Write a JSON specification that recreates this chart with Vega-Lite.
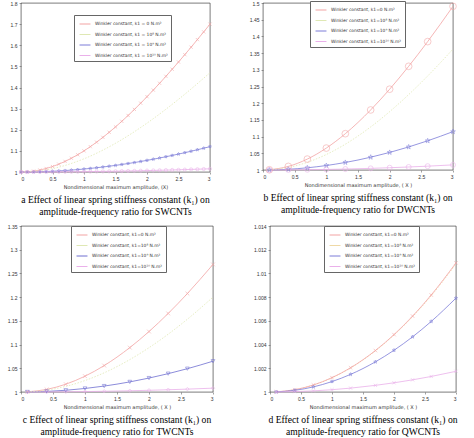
{
"$schema": "https://vega.github.io/schema/vega-lite/v6.json",
"padding": {"left": 6, "top": 0, "right": 0, "bottom": 0},
"background": "white",
"datasets": {
"a": [
{"x":0,"y":1,"s":"0"},{"x":0.1,"y":1.00105,"s":"0"},{"x":0.2,"y":1.0042,"s":"0"},{"x":0.3,"y":1.0094,"s":"0"},{"x":0.4,"y":1.0167,"s":"0"},{"x":0.5,"y":1.0259,"s":"0"},{"x":0.6,"y":1.0371,"s":"0"},{"x":0.7,"y":1.0502,"s":"0"},{"x":0.8,"y":1.0651,"s":"0"},{"x":0.9,"y":1.0817,"s":"0"},{"x":1.0,"y":1.1,"s":"0"},{"x":1.1,"y":1.1199,"s":"0"},{"x":1.2,"y":1.1412,"s":"0"},{"x":1.3,"y":1.164,"s":"0"},{"x":1.4,"y":1.1881,"s":"0"},{"x":1.5,"y":1.2135,"s":"0"},{"x":1.6,"y":1.24,"s":"0"},{"x":1.7,"y":1.2676,"s":"0"},{"x":1.8,"y":1.2963,"s":"0"},{"x":1.9,"y":1.3259,"s":"0"},{"x":2.0,"y":1.3565,"s":"0"},{"x":2.1,"y":1.3878,"s":"0"},{"x":2.2,"y":1.42,"s":"0"},{"x":2.3,"y":1.4529,"s":"0"},{"x":2.4,"y":1.4865,"s":"0"},{"x":2.5,"y":1.5207,"s":"0"},{"x":2.6,"y":1.5555,"s":"0"},{"x":2.7,"y":1.5909,"s":"0"},{"x":2.8,"y":1.6268,"s":"0"},{"x":2.9,"y":1.6632,"s":"0"},{"x":3.0,"y":1.7,"s":"0"},
{"x":0,"y":1,"s":"1e8"},{"x":0.5,"y":1.016,"s":"1e8"},{"x":1.0,"y":1.0625,"s":"1e8"},{"x":1.5,"y":1.1359,"s":"1e8"},{"x":2.0,"y":1.2313,"s":"1e8"},{"x":2.5,"y":1.344,"s":"1e8"},{"x":3.0,"y":1.47,"s":"1e8"},
{"x":0,"y":1,"s":"1e9"},{"x":0.1,"y":1.00014,"s":"1e9"},{"x":0.2,"y":1.00057,"s":"1e9"},{"x":0.3,"y":1.00127,"s":"1e9"},{"x":0.4,"y":1.00226,"s":"1e9"},{"x":0.5,"y":1.00353,"s":"1e9"},{"x":0.6,"y":1.00508,"s":"1e9"},{"x":0.7,"y":1.00691,"s":"1e9"},{"x":0.8,"y":1.00901,"s":"1e9"},{"x":0.9,"y":1.01139,"s":"1e9"},{"x":1.0,"y":1.01405,"s":"1e9"},{"x":1.1,"y":1.01698,"s":"1e9"},{"x":1.2,"y":1.02017,"s":"1e9"},{"x":1.3,"y":1.02364,"s":"1e9"},{"x":1.4,"y":1.02736,"s":"1e9"},{"x":1.5,"y":1.03134,"s":"1e9"},{"x":1.6,"y":1.03559,"s":"1e9"},{"x":1.7,"y":1.04009,"s":"1e9"},{"x":1.8,"y":1.04484,"s":"1e9"},{"x":1.9,"y":1.04984,"s":"1e9"},{"x":2.0,"y":1.05508,"s":"1e9"},{"x":2.1,"y":1.06057,"s":"1e9"},{"x":2.2,"y":1.06629,"s":"1e9"},{"x":2.3,"y":1.07225,"s":"1e9"},{"x":2.4,"y":1.07843,"s":"1e9"},{"x":2.5,"y":1.08484,"s":"1e9"},{"x":2.6,"y":1.09147,"s":"1e9"},{"x":2.7,"y":1.09832,"s":"1e9"},{"x":2.8,"y":1.10538,"s":"1e9"},{"x":2.9,"y":1.11265,"s":"1e9"},{"x":3.0,"y":1.12011,"s":"1e9"},
{"x":0,"y":1,"s":"1e10"},{"x":0.1,"y":1.00002,"s":"1e10"},{"x":0.2,"y":1.00007,"s":"1e10"},{"x":0.3,"y":1.00015,"s":"1e10"},{"x":0.4,"y":1.00027,"s":"1e10"},{"x":0.5,"y":1.00042,"s":"1e10"},{"x":0.6,"y":1.0006,"s":"1e10"},{"x":0.7,"y":1.00082,"s":"1e10"},{"x":0.8,"y":1.00108,"s":"1e10"},{"x":0.9,"y":1.00136,"s":"1e10"},{"x":1.0,"y":1.00168,"s":"1e10"},{"x":1.1,"y":1.00203,"s":"1e10"},{"x":1.2,"y":1.00242,"s":"1e10"},{"x":1.3,"y":1.00284,"s":"1e10"},{"x":1.4,"y":1.00329,"s":"1e10"},{"x":1.5,"y":1.00378,"s":"1e10"},{"x":1.6,"y":1.0043,"s":"1e10"},{"x":1.7,"y":1.00485,"s":"1e10"},{"x":1.8,"y":1.00544,"s":"1e10"},{"x":1.9,"y":1.00606,"s":"1e10"},{"x":2.0,"y":1.00672,"s":"1e10"},{"x":2.1,"y":1.00741,"s":"1e10"},{"x":2.2,"y":1.00813,"s":"1e10"},{"x":2.3,"y":1.00889,"s":"1e10"},{"x":2.4,"y":1.00968,"s":"1e10"},{"x":2.5,"y":1.0105,"s":"1e10"},{"x":2.6,"y":1.01136,"s":"1e10"},{"x":2.7,"y":1.01225,"s":"1e10"},{"x":2.8,"y":1.01317,"s":"1e10"},{"x":2.9,"y":1.01413,"s":"1e10"},{"x":3.0,"y":1.01511,"s":"1e10"}
],
"b": [
{"x":0.1,"y":1.00068,"s":"0"},{"x":0.4,"y":1.01079,"s":"0"},{"x":0.7,"y":1.03269,"s":"0"},{"x":1.0,"y":1.06565,"s":"0"},{"x":1.3,"y":1.10868,"s":"0"},{"x":1.7,"y":1.17978,"s":"0"},{"x":2.0,"y":1.24193,"s":"0"},{"x":2.3,"y":1.31046,"s":"0"},{"x":2.6,"y":1.38443,"s":"0"},{"x":3.0,"y":1.4901,"s":"0"},
{"x":0.1,"y":1.00048,"s":"1e8"},{"x":0.4,"y":1.00757,"s":"1e8"},{"x":0.7,"y":1.02301,"s":"1e8"},{"x":1.0,"y":1.04642,"s":"1e8"},{"x":1.3,"y":1.07729,"s":"1e8"},{"x":1.7,"y":1.12896,"s":"1e8"},{"x":2.0,"y":1.17473,"s":"1e8"},{"x":2.3,"y":1.22579,"s":"1e8"},{"x":2.6,"y":1.28148,"s":"1e8"},{"x":3.0,"y":1.36198,"s":"1e8"},
{"x":0.1,"y":1.00014,"s":"1e9"},{"x":0.4,"y":1.00216,"s":"1e9"},{"x":0.7,"y":1.0066,"s":"1e9"},{"x":1.0,"y":1.01341,"s":"1e9"},{"x":1.3,"y":1.02256,"s":"1e9"},{"x":1.7,"y":1.03829,"s":"1e9"},{"x":2.0,"y":1.05262,"s":"1e9"},{"x":2.3,"y":1.06903,"s":"1e9"},{"x":2.6,"y":1.08744,"s":"1e9"},{"x":3.0,"y":1.1149,"s":"1e9"},
{"x":0.1,"y":1.00002,"s":"1e10"},{"x":0.4,"y":1.00027,"s":"1e10"},{"x":0.7,"y":1.00083,"s":"1e10"},{"x":1.0,"y":1.0017,"s":"1e10"},{"x":1.3,"y":1.00287,"s":"1e10"},{"x":1.7,"y":1.00491,"s":"1e10"},{"x":2.0,"y":1.0068,"s":"1e10"},{"x":2.3,"y":1.00899,"s":"1e10"},{"x":2.6,"y":1.01149,"s":"1e10"},{"x":3.0,"y":1.0153,"s":"1e10"}
],
"c": [
{"x":0.1,"y":1.00034,"s":"0"},{"x":0.4,"y":1.00541,"s":"0"},{"x":0.7,"y":1.01647,"s":"0"},{"x":1.0,"y":1.03334,"s":"0"},{"x":1.3,"y":1.05574,"s":"0"},{"x":1.7,"y":1.09359,"s":"0"},{"x":2.0,"y":1.12748,"s":"0"},{"x":2.3,"y":1.16562,"s":"0"},{"x":2.6,"y":1.20761,"s":"0"},{"x":3.0,"y":1.26894,"s":"0"},
{"x":0.1,"y":1.00024,"s":"1e8"},{"x":0.4,"y":1.0039,"s":"1e8"},{"x":0.7,"y":1.01191,"s":"1e8"},{"x":1.0,"y":1.02416,"s":"1e8"},{"x":1.3,"y":1.0405,"s":"1e8"},{"x":1.7,"y":1.06833,"s":"1e8"},{"x":2.0,"y":1.09344,"s":"1e8"},{"x":2.3,"y":1.12191,"s":"1e8"},{"x":2.6,"y":1.1535,"s":"1e8"},{"x":3.0,"y":1.20004,"s":"1e8"},
{"x":0.1,"y":1.00007,"s":"1e9"},{"x":0.4,"y":1.00119,"s":"1e9"},{"x":0.7,"y":1.00364,"s":"1e9"},{"x":1.0,"y":1.00742,"s":"1e9"},{"x":1.3,"y":1.01251,"s":"1e9"},{"x":1.7,"y":1.0213,"s":"1e9"},{"x":2.0,"y":1.02938,"s":"1e9"},{"x":2.3,"y":1.03867,"s":"1e9"},{"x":2.6,"y":1.04915,"s":"1e9"},{"x":3.0,"y":1.06494,"s":"1e9"},
{"x":0.1,"y":1.00001,"s":"1e10"},{"x":0.4,"y":1.00014,"s":"1e10"},{"x":0.7,"y":1.00044,"s":"1e10"},{"x":1.0,"y":1.0009,"s":"1e10"},{"x":1.3,"y":1.00152,"s":"1e10"},{"x":1.7,"y":1.0026,"s":"1e10"},{"x":2.0,"y":1.0036,"s":"1e10"},{"x":2.3,"y":1.00476,"s":"1e10"},{"x":2.6,"y":1.00608,"s":"1e10"},{"x":3.0,"y":1.0081,"s":"1e10"}
],
"d": [
{"x":0.1,"y":1.000012,"s":"0"},{"x":0.4,"y":1.000194,"s":"0"},{"x":0.7,"y":1.000593,"s":"0"},{"x":1.0,"y":1.00121,"s":"0"},{"x":1.3,"y":1.002045,"s":"0"},{"x":1.7,"y":1.003497,"s":"0"},{"x":2.0,"y":1.00484,"s":"0"},{"x":2.3,"y":1.006401,"s":"0"},{"x":2.6,"y":1.00818,"s":"0"},{"x":3.0,"y":1.01089,"s":"0"},
{"x":0.1,"y":1.000012,"s":"1e8"},{"x":0.4,"y":1.000192,"s":"1e8"},{"x":0.7,"y":1.000588,"s":"1e8"},{"x":1.0,"y":1.0012,"s":"1e8"},{"x":1.3,"y":1.002028,"s":"1e8"},{"x":1.7,"y":1.003468,"s":"1e8"},{"x":2.0,"y":1.0048,"s":"1e8"},{"x":2.3,"y":1.006348,"s":"1e8"},{"x":2.6,"y":1.008112,"s":"1e8"},{"x":3.0,"y":1.0108,"s":"1e8"},
{"x":0.1,"y":1.000009,"s":"1e9"},{"x":0.4,"y":1.000141,"s":"1e9"},{"x":0.7,"y":1.000431,"s":"1e9"},{"x":1.0,"y":1.00088,"s":"1e9"},{"x":1.3,"y":1.001487,"s":"1e9"},{"x":1.7,"y":1.002543,"s":"1e9"},{"x":2.0,"y":1.00352,"s":"1e9"},{"x":2.3,"y":1.004655,"s":"1e9"},{"x":2.6,"y":1.005949,"s":"1e9"},{"x":3.0,"y":1.00792,"s":"1e9"},
{"x":0.1,"y":1.000002,"s":"1e10"},{"x":0.4,"y":1.000031,"s":"1e10"},{"x":0.7,"y":1.000095,"s":"1e10"},{"x":1.0,"y":1.000194,"s":"1e10"},{"x":1.3,"y":1.000328,"s":"1e10"},{"x":1.7,"y":1.000561,"s":"1e10"},{"x":2.0,"y":1.000776,"s":"1e10"},{"x":2.3,"y":1.001026,"s":"1e10"},{"x":2.6,"y":1.001311,"s":"1e10"},{"x":3.0,"y":1.001746,"s":"1e10"}
]
},
"vconcat": [
{"hconcat": [
{"width": 189, "height": 169, "data": {"name": "a"},
 "title": {"text": ["a Effect of linear spring stiffness constant (k₁) on", "amplitude-frequency ratio for SWCNTs"]},
 "encoding": {
  "x": {"field": "x", "type": "quantitative", "scale": {"domain": [0, 3], "nice": false}, "axis": {"values": [0, 0.5, 1, 1.5, 2, 2.5, 3], "format": "~f", "title": "Nondimensional maximum amplitude, (X)"}},
  "y": {"field": "y", "type": "quantitative", "scale": {"domain": [1, 1.8], "nice": false, "zero": false}, "axis": {"values": [1, 1.1, 1.2, 1.3, 1.4, 1.5, 1.6, 1.7, 1.8], "format": "~f"}},
  "color": {"field": "s", "type": "nominal", "scale": {"domain": ["0", "1e8", "1e9", "1e10"], "range": ["#f2a3a3", "#dfe8b4", "#7c7cd8", "#eab0ea"]},
   "legend": {"legendX": 53, "legendY": 12, "labelExpr": "datum.value == '0' ? 'Winkler constant, k1 = 0 N.m²' : datum.value == '1e8' ? 'Winkler constant, k1 = 10⁸ N.m²' : datum.value == '1e9' ? 'Winkler constant, k1 = 10⁹ N.m²' : 'Winkler constant, k1 = 10¹⁰ N.m²'"}}
 },
 "layer": [
  {"transform": [{"filter": "datum.s != '1e8'"}], "mark": {"type": "line", "interpolate": "monotone", "strokeWidth": 0.8}},
  {"transform": [{"filter": "datum.s == '1e8'"}], "mark": {"type": "line", "interpolate": "monotone", "strokeWidth": 0.8, "strokeDash": [1.5, 1.5]}},
  {"transform": [{"filter": "datum.s == '0'"}], "mark": {"type": "point", "filled": false, "strokeWidth": 0.8, "size": 10, "shape": "M-1,-1L1,1M-1,1L1,-1"}, "encoding": {"color": {"value": "#f2a3a3"}}},
  {"transform": [{"filter": "datum.s == '1e9'"}], "mark": {"type": "point", "filled": false, "strokeWidth": 0.8, "size": 10, "shape": "M0,-1L0.22,-0.31L0.95,-0.31L0.36,0.12L0.59,0.81L0,0.38L-0.59,0.81L-0.36,0.12L-0.95,-0.31L-0.22,-0.31Z"}, "encoding": {"color": {"value": "#7c7cd8"}}},
  {"transform": [{"filter": "datum.s == '1e10'"}], "mark": {"type": "point", "filled": false, "strokeWidth": 0.8, "size": 10, "shape": "circle"}, "encoding": {"color": {"value": "#eab0ea"}}}
 ]
},
{"width": 190, "height": 167, "data": {"name": "b"},
 "title": {"text": ["b Effect of linear spring stiffness constant (k₁) on", "amplitude-frequency ratio for DWCNTs"]},
 "encoding": {
  "x": {"field": "x", "type": "quantitative", "scale": {"domain": [0, 3], "nice": false}, "axis": {"values": [0, 0.5, 1, 1.5, 2, 2.5, 3], "format": "~f", "title": "Nondimensional maximum amplitude, ( X )"}},
  "y": {"field": "y", "type": "quantitative", "scale": {"domain": [1, 1.5], "nice": false, "zero": false}, "axis": {"values": [1, 1.05, 1.1, 1.15, 1.2, 1.25, 1.3, 1.35, 1.4, 1.45, 1.5], "format": "~f"}},
  "color": {"field": "s", "type": "nominal", "scale": {"domain": ["0", "1e8", "1e9", "1e10"], "range": ["#f2a3a3", "#dfe8b4", "#7c7cd8", "#eab0ea"]},
   "legend": {"legendX": 47, "legendY": -2, "labelExpr": "datum.value == '0' ? 'Winkler constant, k1=0 N.m²' : datum.value == '1e8' ? 'Winkler constant, k1=10⁸ N.m²' : datum.value == '1e9' ? 'Winkler constant, k1=10⁹ N.m²' : 'Winkler constant, k1=10¹⁰ N.m²'"}}
 },
 "layer": [
  {"transform": [{"filter": "datum.s != '1e8'"}], "mark": {"type": "line", "interpolate": "monotone", "strokeWidth": 0.8}},
  {"transform": [{"filter": "datum.s == '1e8'"}], "mark": {"type": "line", "interpolate": "monotone", "strokeWidth": 0.8, "strokeDash": [1.5, 1.5]}},
  {"transform": [{"filter": "datum.s == '0'"}], "mark": {"type": "point", "filled": false, "strokeWidth": 0.8, "size": 45, "shape": "circle"}, "encoding": {"color": {"value": "#f2a3a3"}}},
  {"transform": [{"filter": "datum.s == '1e9'"}], "mark": {"type": "point", "filled": false, "strokeWidth": 0.8, "size": 25, "shape": "M0,-1L0.22,-0.31L0.95,-0.31L0.36,0.12L0.59,0.81L0,0.38L-0.59,0.81L-0.36,0.12L-0.95,-0.31L-0.22,-0.31Z"}, "encoding": {"color": {"value": "#7c7cd8"}}},
  {"transform": [{"filter": "datum.s == '1e10'"}], "mark": {"type": "point", "filled": false, "strokeWidth": 0.8, "size": 25, "shape": "circle"}, "encoding": {"color": {"value": "#eab0ea"}}}
 ]
}
], "spacing": 34, "resolve": {"scale": {"color": "independent"}, "legend": {"color": "independent"}}},
{"hconcat": [
{"width": 192, "height": 166, "data": {"name": "c"},
 "title": {"text": ["c Effect of linear spring stiffness constant (k₁) on", "amplitude-frequency ratio for TWCNTs"]},
 "encoding": {
  "x": {"field": "x", "type": "quantitative", "scale": {"domain": [0, 3], "nice": false}, "axis": {"values": [0, 0.5, 1, 1.5, 2, 2.5, 3], "format": "~f", "title": "Nondimensional maximum amplitude, ( X )"}},
  "y": {"field": "y", "type": "quantitative", "scale": {"domain": [1, 1.35], "nice": false, "zero": false}, "axis": {"values": [1, 1.05, 1.1, 1.15, 1.2, 1.25, 1.3, 1.35], "format": "~f"}},
  "color": {"field": "s", "type": "nominal", "scale": {"domain": ["0", "1e8", "1e9", "1e10"], "range": ["#f2a3a3", "#dfe8b4", "#6f6fd0", "#eab0ea"]},
   "legend": {"legendX": 50, "legendY": 0, "labelExpr": "datum.value == '0' ? 'Winkler constant, k1=0 N.m²' : datum.value == '1e8' ? 'Winkler constant, k1=10⁸ N.m²' : datum.value == '1e9' ? 'Winkler constant, k1=10⁹ N.m²' : 'Winkler constant, k1=10¹⁰ N.m²'"}}
 },
 "layer": [
  {"transform": [{"filter": "datum.s != '1e8'"}], "mark": {"type": "line", "interpolate": "monotone", "strokeWidth": 0.8}},
  {"transform": [{"filter": "datum.s == '1e8'"}], "mark": {"type": "line", "interpolate": "monotone", "strokeWidth": 0.8, "strokeDash": [1.5, 1.5]}},
  {"transform": [{"filter": "datum.s == '0'"}], "mark": {"type": "point", "filled": false, "strokeWidth": 0.8, "size": 14, "shape": "M-1,-1L1,1M-1,1L1,-1"}, "encoding": {"color": {"value": "#f2a3a3"}}},
  {"transform": [{"filter": "datum.s == '1e9'"}], "mark": {"type": "point", "filled": false, "strokeWidth": 0.8, "size": 14, "shape": "triangle-down"}, "encoding": {"color": {"value": "#6f6fd0"}}},
  {"transform": [{"filter": "datum.s == '1e10'"}], "mark": {"type": "point", "filled": false, "strokeWidth": 0.8, "size": 12, "shape": "diamond"}, "encoding": {"color": {"value": "#eab0ea"}}}
 ]
},
{"width": 186, "height": 166, "data": {"name": "d"},
 "title": {"text": ["d Effect of linear spring stiffness constant (k₁) on", "amplitude-frequency ratio for QWCNTs"]},
 "encoding": {
  "x": {"field": "x", "type": "quantitative", "scale": {"domain": [0, 3], "nice": false}, "axis": {"values": [0, 0.5, 1, 1.5, 2, 2.5, 3], "format": "~f", "title": "Nondimensional maximum amplitude, ( X )"}},
  "y": {"field": "y", "type": "quantitative", "scale": {"domain": [1, 1.014], "nice": false, "zero": false}, "axis": {"values": [1, 1.002, 1.004, 1.006, 1.008, 1.01, 1.012, 1.014], "format": "~f"}},
  "color": {"field": "s", "type": "nominal", "scale": {"domain": ["0", "1e8", "1e9", "1e10"], "range": ["#f2a3a3", "#efd9a6", "#7c7cd8", "#eab0ea"]},
   "legend": {"legendX": 54, "legendY": 0, "labelExpr": "datum.value == '0' ? 'Winkler constant, k1=0 N.m²' : datum.value == '1e8' ? 'Winkler constant, k1=10⁸ N.m²' : datum.value == '1e9' ? 'Winkler constant, k1=10⁹ N.m²' : 'Winkler constant, k1=10¹⁰ N.m²'"}}
 },
 "layer": [
  {"transform": [{"filter": "datum.s == '1e8'"}], "mark": {"type": "line", "interpolate": "monotone", "strokeWidth": 0.8, "strokeDash": [1.5, 1.5]}},
  {"transform": [{"filter": "datum.s != '1e8'"}], "mark": {"type": "line", "interpolate": "monotone", "strokeWidth": 0.8}},
  {"transform": [{"filter": "datum.s == '0'"}], "mark": {"type": "point", "filled": false, "strokeWidth": 0.8, "size": 12, "shape": "M-1,-1L1,1M-1,1L1,-1"}, "encoding": {"color": {"value": "#f2a3a3"}}},
  {"transform": [{"filter": "datum.s == '1e9'"}], "mark": {"type": "point", "filled": false, "strokeWidth": 0.8, "size": 12, "shape": "M0,-1L0.22,-0.31L0.95,-0.31L0.36,0.12L0.59,0.81L0,0.38L-0.59,0.81L-0.36,0.12L-0.95,-0.31L-0.22,-0.31Z"}, "encoding": {"color": {"value": "#7c7cd8"}}},
  {"transform": [{"filter": "datum.s == '1e10'"}], "mark": {"type": "point", "filled": false, "strokeWidth": 0.8, "size": 10, "shape": "M-1,-1L1,1M-1,1L1,-1"}, "encoding": {"color": {"value": "#eab0ea"}}}
 ]
}
], "spacing": 36, "resolve": {"scale": {"color": "independent"}, "legend": {"color": "independent"}}}
],
"spacing": 6,
"resolve": {"scale": {"color": "independent"}, "legend": {"color": "independent"}},
"config": {
 "font": "Liberation Sans",
 "view": {"stroke": "#222", "strokeWidth": 0.6},
 "axis": {"grid": false, "domain": false, "labelFontSize": 5, "titleFontSize": 5, "titleFontWeight": "normal", "labelColor": "#333", "titleColor": "#333", "tickColor": "#444", "tickSize": 2, "tickWidth": 0.5, "labelPadding": 2, "titlePadding": 3, "labelFont": "Liberation Sans", "titleFont": "DejaVu Sans"},
 "axisY": {"title": "Frequency ratio, ( Ψ )"},
 "legend": {"orient": "none", "symbolType": "stroke", "symbolSize": 120, "symbolStrokeWidth": 1, "labelFontSize": 4.4, "labelFont": "DejaVu Sans", "labelColor": "#333", "strokeColor": "#666", "fillColor": "white", "padding": 3, "rowPadding": 2.5, "title": null, "labelLimit": 200, "symbolOffset": 2},
 "title": {"orient": "bottom", "font": "Liberation Serif", "fontSize": 9.6, "fontWeight": "normal", "color": "#000", "anchor": "middle", "frame": "group", "lineHeight": 12, "offset": 6}
}
}
